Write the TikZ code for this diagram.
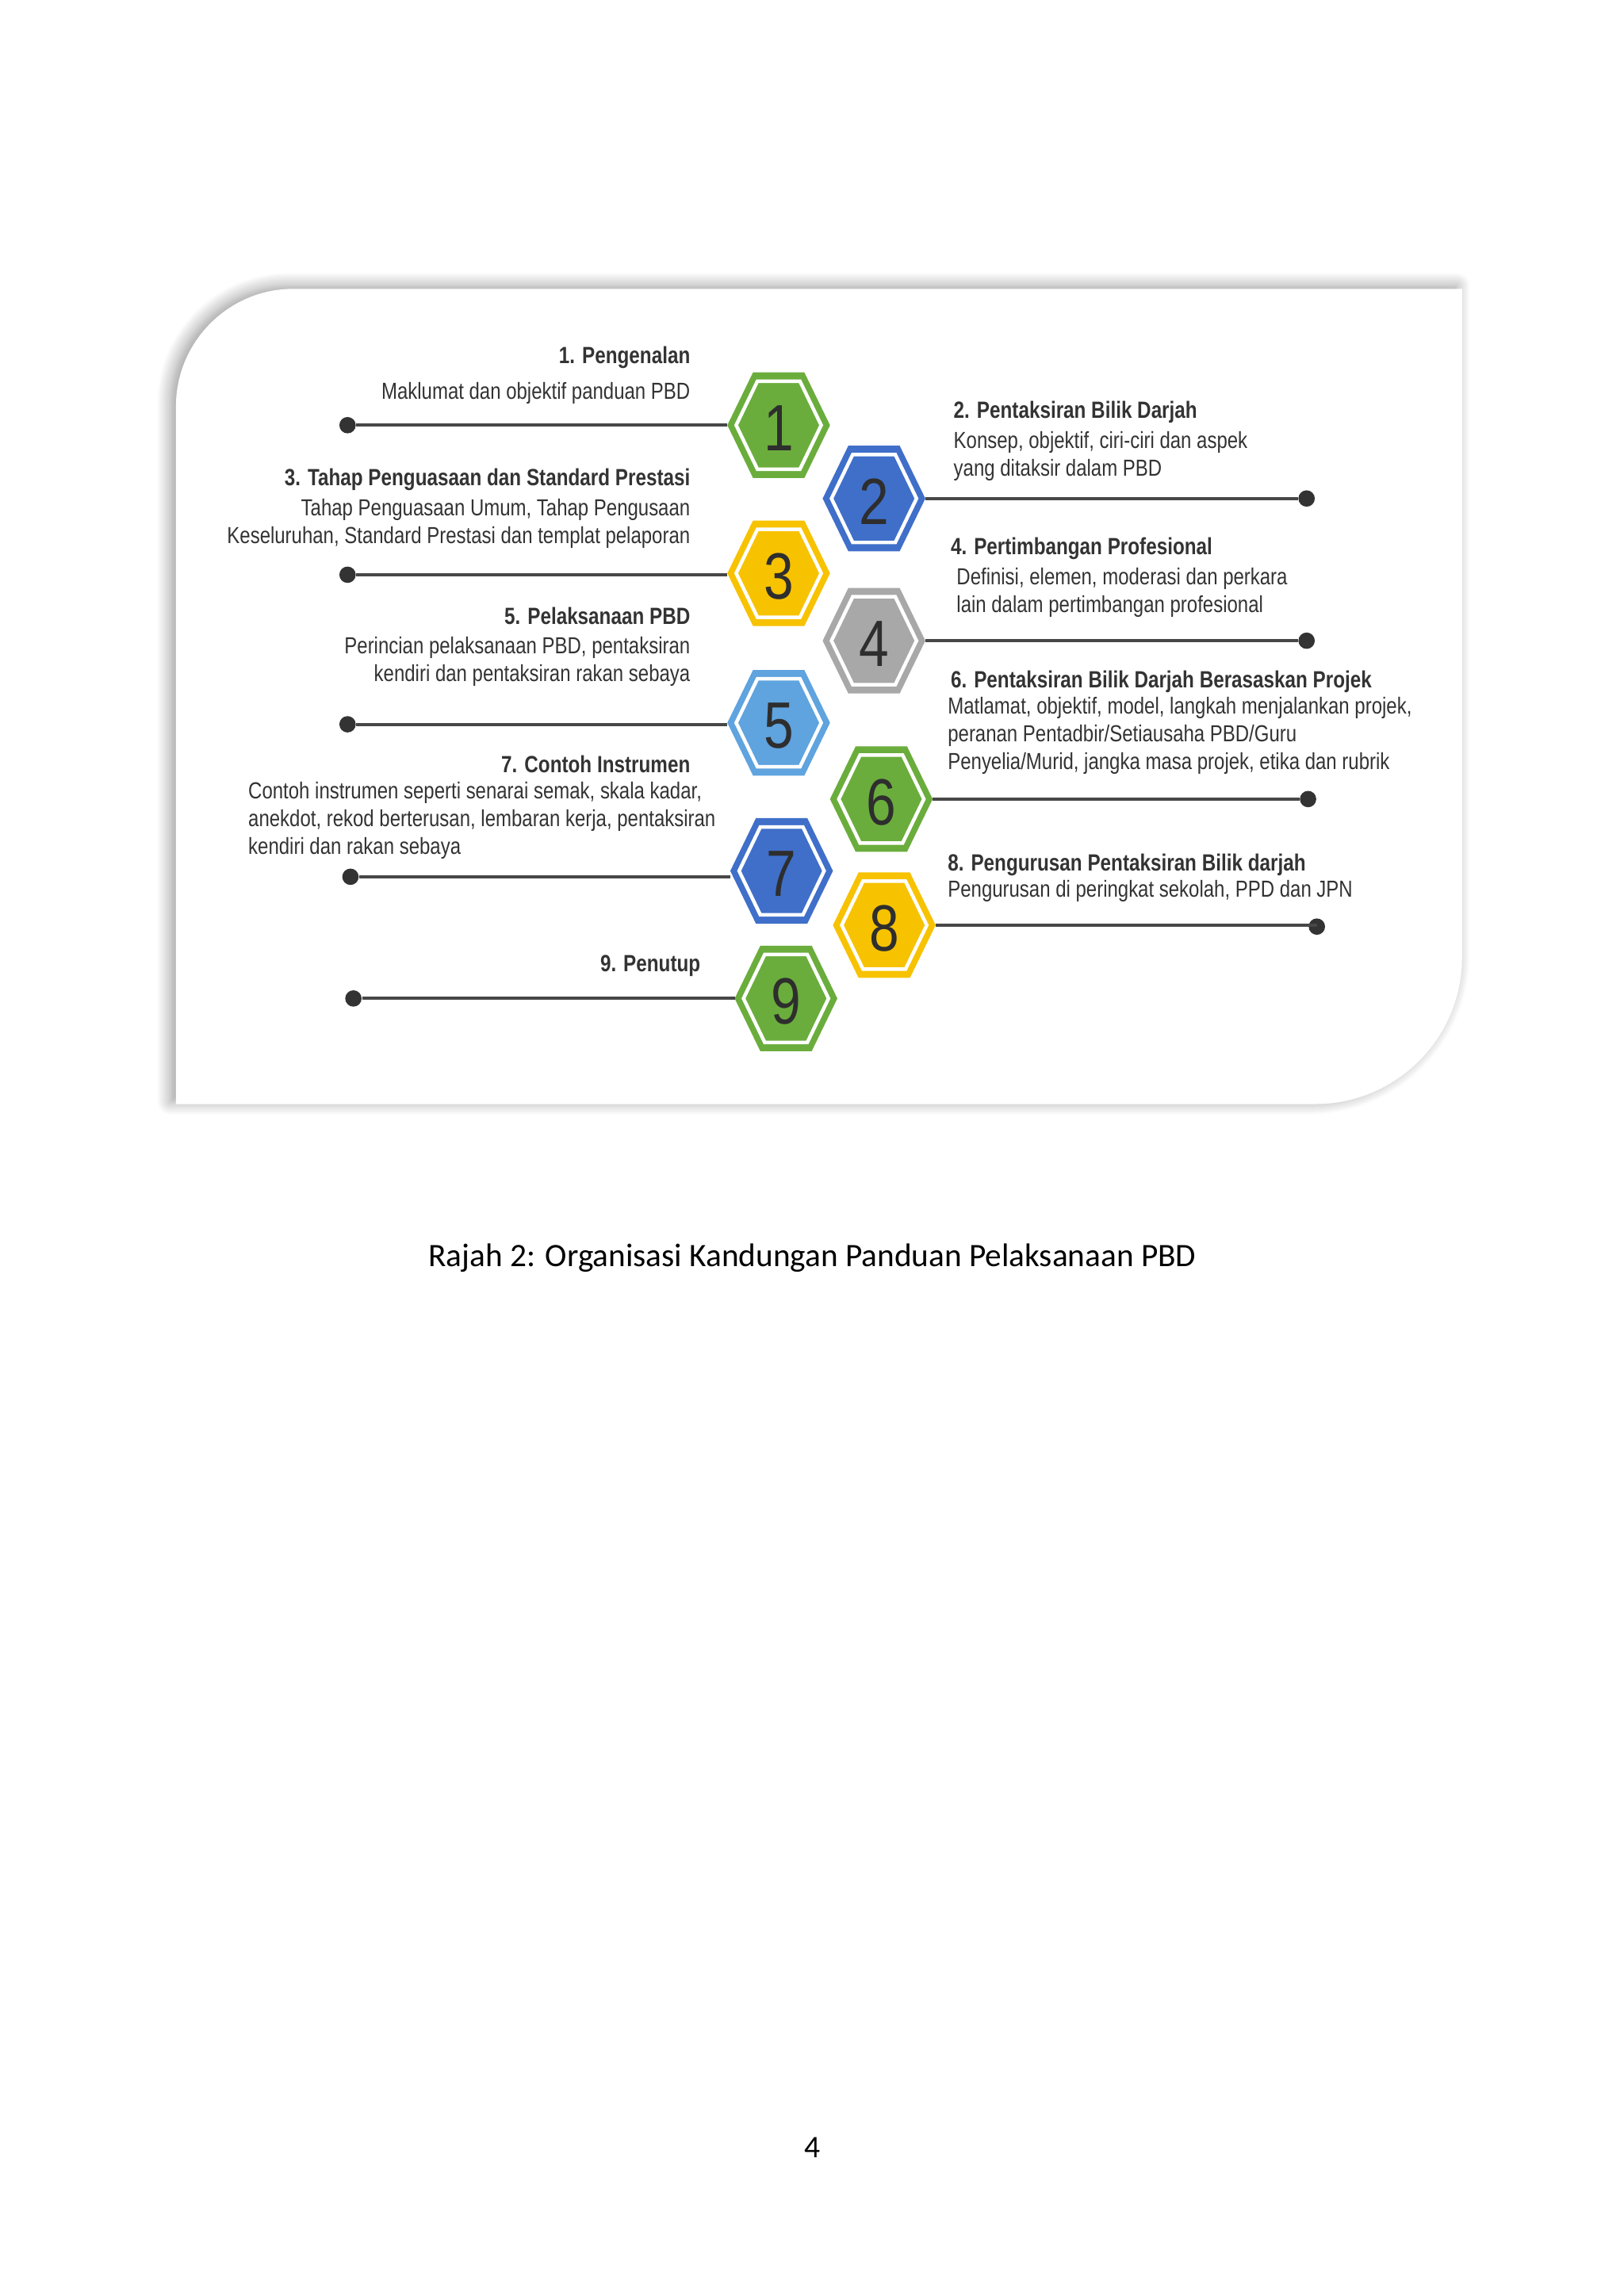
\documentclass[tikz,border=0pt]{standalone}
\usepackage{fontspec}
\setmainfont{Liberation Sans}
\newfontfamily\narrow[FakeStretch=0.82]{Liberation Sans}
\newfontfamily\capfont{Carlito}
\usetikzlibrary{shadows.blur}
\definecolor{hgreen}{HTML}{6AAD3C}
\definecolor{hblue}{HTML}{3F6FC9}
\definecolor{hyellow}{HTML}{F7C200}
\definecolor{hgray}{HTML}{A8A8A8}
\definecolor{hlblue}{HTML}{5FA3DF}
\definecolor{txt}{HTML}{333333}
\tikzset{
  ttl/.style={font=\narrow\bfseries\fontsize{8.6}{10.2}\selectfont,text=txt,inner sep=0},
  bdy/.style={font=\narrow\fontsize{8.5}{10.2}\selectfont,text=txt,inner sep=0},
  lin/.style={line width=1.2pt,draw=txt!90},
  dotn/.style={circle,fill=txt,inner sep=0,minimum size=6pt},
}
\newcommand{\hexo}[4]{% name, x, y, color
  \fill[#4] (#2-35,#3) -- (#2-17.5,#3-36) -- (#2+17.5,#3-36) -- (#2+35,#3) -- (#2+17.5,#3+36) -- (#2-17.5,#3+36) -- cycle;
  \draw[white,line width=1.3pt] (#2-29,#3) -- (#2-14.5,#3-30) -- (#2+14.5,#3-30) -- (#2+29,#3) -- (#2+14.5,#3+30) -- (#2-14.5,#3+30) -- cycle;
  \coordinate (#1L) at (#2-35,#3);
  \coordinate (#1R) at (#2+35,#3);
}
\begin{document}
\begin{tikzpicture}[x=0.5375pt,y=-0.5375pt]
\useasboundingbox (0,0) rectangle (1107,1566);
% card
\fill[white,blur shadow={shadow blur steps=12,shadow xshift=-2pt,shadow yshift=1pt,shadow blur radius=5pt,shadow opacity=40}]
  (120,753) -- (120,277) .. controls (120,233) and (156,197) .. (200,197) -- (997,197) -- (997,653) .. controls (997,708) and (952,753) .. (897,753) -- cycle;
% hexagons
\hexo{h1}{531}{290}{hgreen}
\hexo{h2}{596}{340}{hblue}
\hexo{h3}{531}{391}{hyellow}
\hexo{h4}{596}{437}{hgray}
\hexo{h5}{531}{493}{hlblue}
\hexo{h6}{601}{545}{hgreen}
\hexo{h7}{533}{594}{hblue}
\hexo{h8}{603}{631}{hyellow}
\hexo{h9}{536}{681}{hgreen}
\foreach \n/\x/\y in {1/531/290,2/596/340,3/531/391,4/596/437,5/531/493,6/601/545,7/533/594,8/603/631,9/536/681}
  \node[font=\narrow\fontsize{24}{24}\selectfont,text=txt!90!black] (n\n) at (\x,\y+2) {\n};
% dots and lines
\node[dotn] (d1) at (237,290) {}; \draw[lin] (d1) -- (h1L);
\node[dotn] (d3) at (237,392) {}; \draw[lin] (d3) -- (h3L|-d3);
\node[dotn] (d5) at (237,494) {}; \draw[lin] (d5) -- (h5L|-d5);
\node[dotn] (d7) at (239,598) {}; \draw[lin] (d7) -- (h7L|-d7);
\node[dotn] (d9) at (241,681) {}; \draw[lin] (d9) -- (h9L);
\node[dotn] (d2) at (891,340) {}; \draw[lin] (h2R) -- (d2);
\node[dotn] (d4) at (891,437) {}; \draw[lin] (h4R) -- (d4);
\node[dotn] (d6) at (892,545) {}; \draw[lin] (h6R) -- (d6);
\node[dotn] (d8) at (898,632) {}; \draw[lin] (h8R) -- (d8|-h8R);
% left texts
\node[ttl,anchor=east] (t1) at (471,244) {1. Pengenalan};
\node[bdy,anchor=east] (b1) at (471,268) {Maklumat dan objektif panduan PBD};
\node[ttl,anchor=east] (t3) at (471,327) {3. Tahap Penguasaan dan Standard Prestasi};
\node[bdy,anchor=north east,align=right] (b3) at (471,340) {Tahap Penguasaan Umum, Tahap Pengusaan\\Keseluruhan, Standard Prestasi dan templat pelaporan};
\node[ttl,anchor=east] (t5) at (471,420) {5. Pelaksanaan PBD};
\node[bdy,anchor=north east,align=right] (b5) at (471,434) {Perincian pelaksanaan PBD, pentaksiran\\kendiri dan pentaksiran rakan sebaya};
\node[ttl,anchor=east] (t7) at (471,521) {7. Contoh Instrumen};
\node[bdy,anchor=north west,align=left] (b7) at (169,533) {Contoh instrumen seperti senarai semak, skala kadar,\\anekdot, rekod berterusan, lembaran kerja, pentaksiran\\kendiri dan rakan sebaya};
\node[ttl,anchor=east] (t9) at (478,659) {9. Penutup};
% right texts
\node[ttl,anchor=west] (t2) at (650,281) {2. Pentaksiran Bilik Darjah};
\node[bdy,anchor=north west,align=left] (b2) at (650,294) {Konsep, objektif, ciri-ciri dan aspek\\yang ditaksir dalam PBD};
\node[ttl,anchor=west] (t4) at (648,374) {4. Pertimbangan Profesional};
\node[bdy,anchor=north west,align=left] (b4) at (652,387) {Definisi, elemen, moderasi dan perkara\\lain dalam pertimbangan profesional};
\node[ttl,anchor=west] (t6) at (648,465) {6. Pentaksiran Bilik Darjah Berasaskan Projek};
\node[bdy,anchor=north west,align=left] (b6) at (646,475) {Matlamat, objektif, model, langkah menjalankan projek,\\peranan Pentadbir/Setiausaha PBD/Guru\\Penyelia/Murid, jangka masa projek, etika dan rubrik};
\node[ttl,anchor=west] (t8) at (646,590) {8. Pengurusan Pentaksiran Bilik darjah};
\node[bdy,anchor=west] (b8) at (646,608) {Pengurusan di peringkat sekolah, PPD dan JPN};
% caption
\node[font=\capfont\fontsize{12}{14}\selectfont] (cap) at (554,858) {Rajah 2: Organisasi Kandungan Panduan Pelaksanaan PBD};
\node[font=\capfont\fontsize{11.5}{13}\selectfont] (pg) at (554,1465) {4};
\end{tikzpicture}
\end{document}
